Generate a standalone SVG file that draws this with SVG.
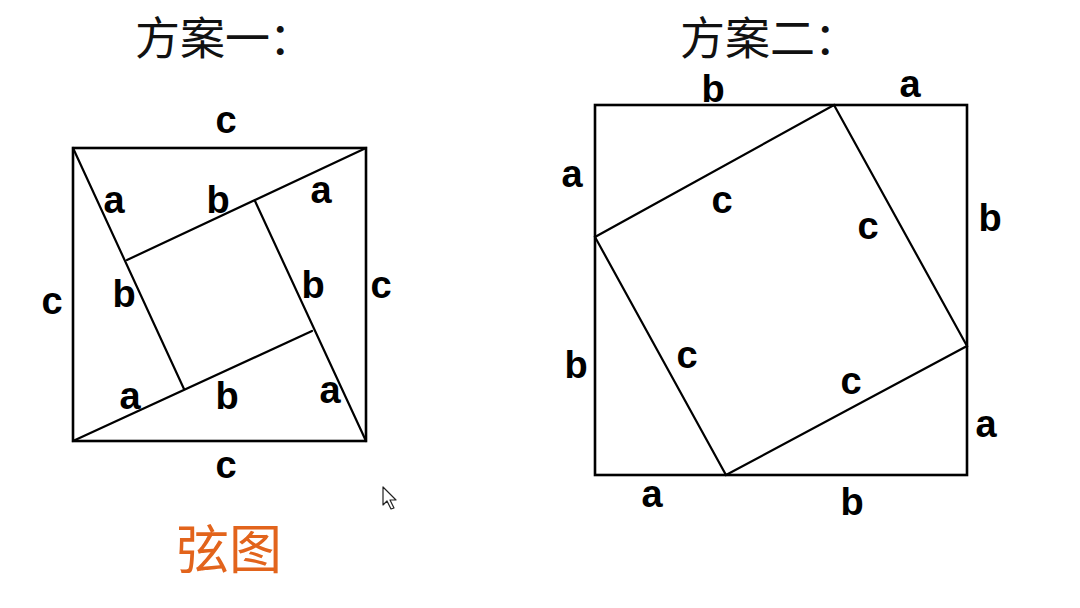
<svg xmlns="http://www.w3.org/2000/svg" width="1080" height="608" viewBox="0 0 1080 608">
<style>
.bg{fill:#ffffff}
.outer{fill:none;stroke:#000;stroke-width:2.6;stroke-linejoin:miter}
.inner{fill:none;stroke:#000;stroke-width:2.2;stroke-linecap:round}
.lbl{font-family:"Liberation Sans",Arial,sans-serif;font-weight:bold;font-size:38px;fill:#000;text-anchor:middle}
.title{font-family:"Noto Sans CJK SC",sans-serif;font-size:45px;fill:#111}
.cap{font-family:"Noto Sans CJK SC",sans-serif;font-size:53px;fill:#E2641C}
</style>
<rect class="bg" x="0" y="0" width="1080" height="608"/>

<g id="title1"><text class="title" x="135" y="55">方案一<tspan x="269">：</tspan></text></g>
<g id="title2"><text class="title" x="680" y="55">方案二<tspan x="814">：</tspan></text></g>

<g id="scheme1">
  <rect class="outer" x="73" y="148" width="293" height="293"/>
  <g id="scheme1-lines">
    <line class="inner" x1="73" y1="148" x2="184" y2="389"/>
    <line class="inner" x1="366" y1="148" x2="127" y2="260"/>
    <line class="inner" x1="366" y1="441" x2="255" y2="201"/>
    <line class="inner" x1="73" y1="441" x2="312" y2="331"/>
  </g>
  <g id="scheme1-labels">
    <text class="lbl" x="226" y="133">c</text>
    <text class="lbl" x="52" y="314">c</text>
    <text class="lbl" x="381" y="298">c</text>
    <text class="lbl" x="226" y="478">c</text>
    <text class="lbl" x="114" y="213">a</text>
    <text class="lbl" x="218" y="213">b</text>
    <text class="lbl" x="321" y="203">a</text>
    <text class="lbl" x="124" y="307">b</text>
    <text class="lbl" x="313" y="298">b</text>
    <text class="lbl" x="130" y="409">a</text>
    <text class="lbl" x="227" y="409">b</text>
    <text class="lbl" x="330" y="403">a</text>
  </g>
</g>

<g id="scheme2">
  <rect class="outer" x="595" y="105" width="372" height="370"/>
  <polygon class="inner" points="834,105 967,346 726,475 595,237"/>
  <g id="scheme2-labels">
    <text class="lbl" x="713" y="102">b</text>
    <text class="lbl" x="910" y="97">a</text>
    <text class="lbl" x="572" y="187">a</text>
    <text class="lbl" x="990" y="231">b</text>
    <text class="lbl" x="576" y="378">b</text>
    <text class="lbl" x="986" y="437">a</text>
    <text class="lbl" x="652" y="507">a</text>
    <text class="lbl" x="852" y="515">b</text>
    <text class="lbl" x="722" y="213">c</text>
    <text class="lbl" x="868" y="239">c</text>
    <text class="lbl" x="687" y="368">c</text>
    <text class="lbl" x="851" y="394">c</text>
  </g>
</g>

<g id="caption"><text class="cap" x="176" y="569">弦图</text></g>

<g id="cursor">
  <polygon points="383,487 383,505 387,501 391,509 394,508 390,500 396,500" fill="#fff" stroke="#222" stroke-width="1.2" stroke-linejoin="round"/>
</g>
</svg>
